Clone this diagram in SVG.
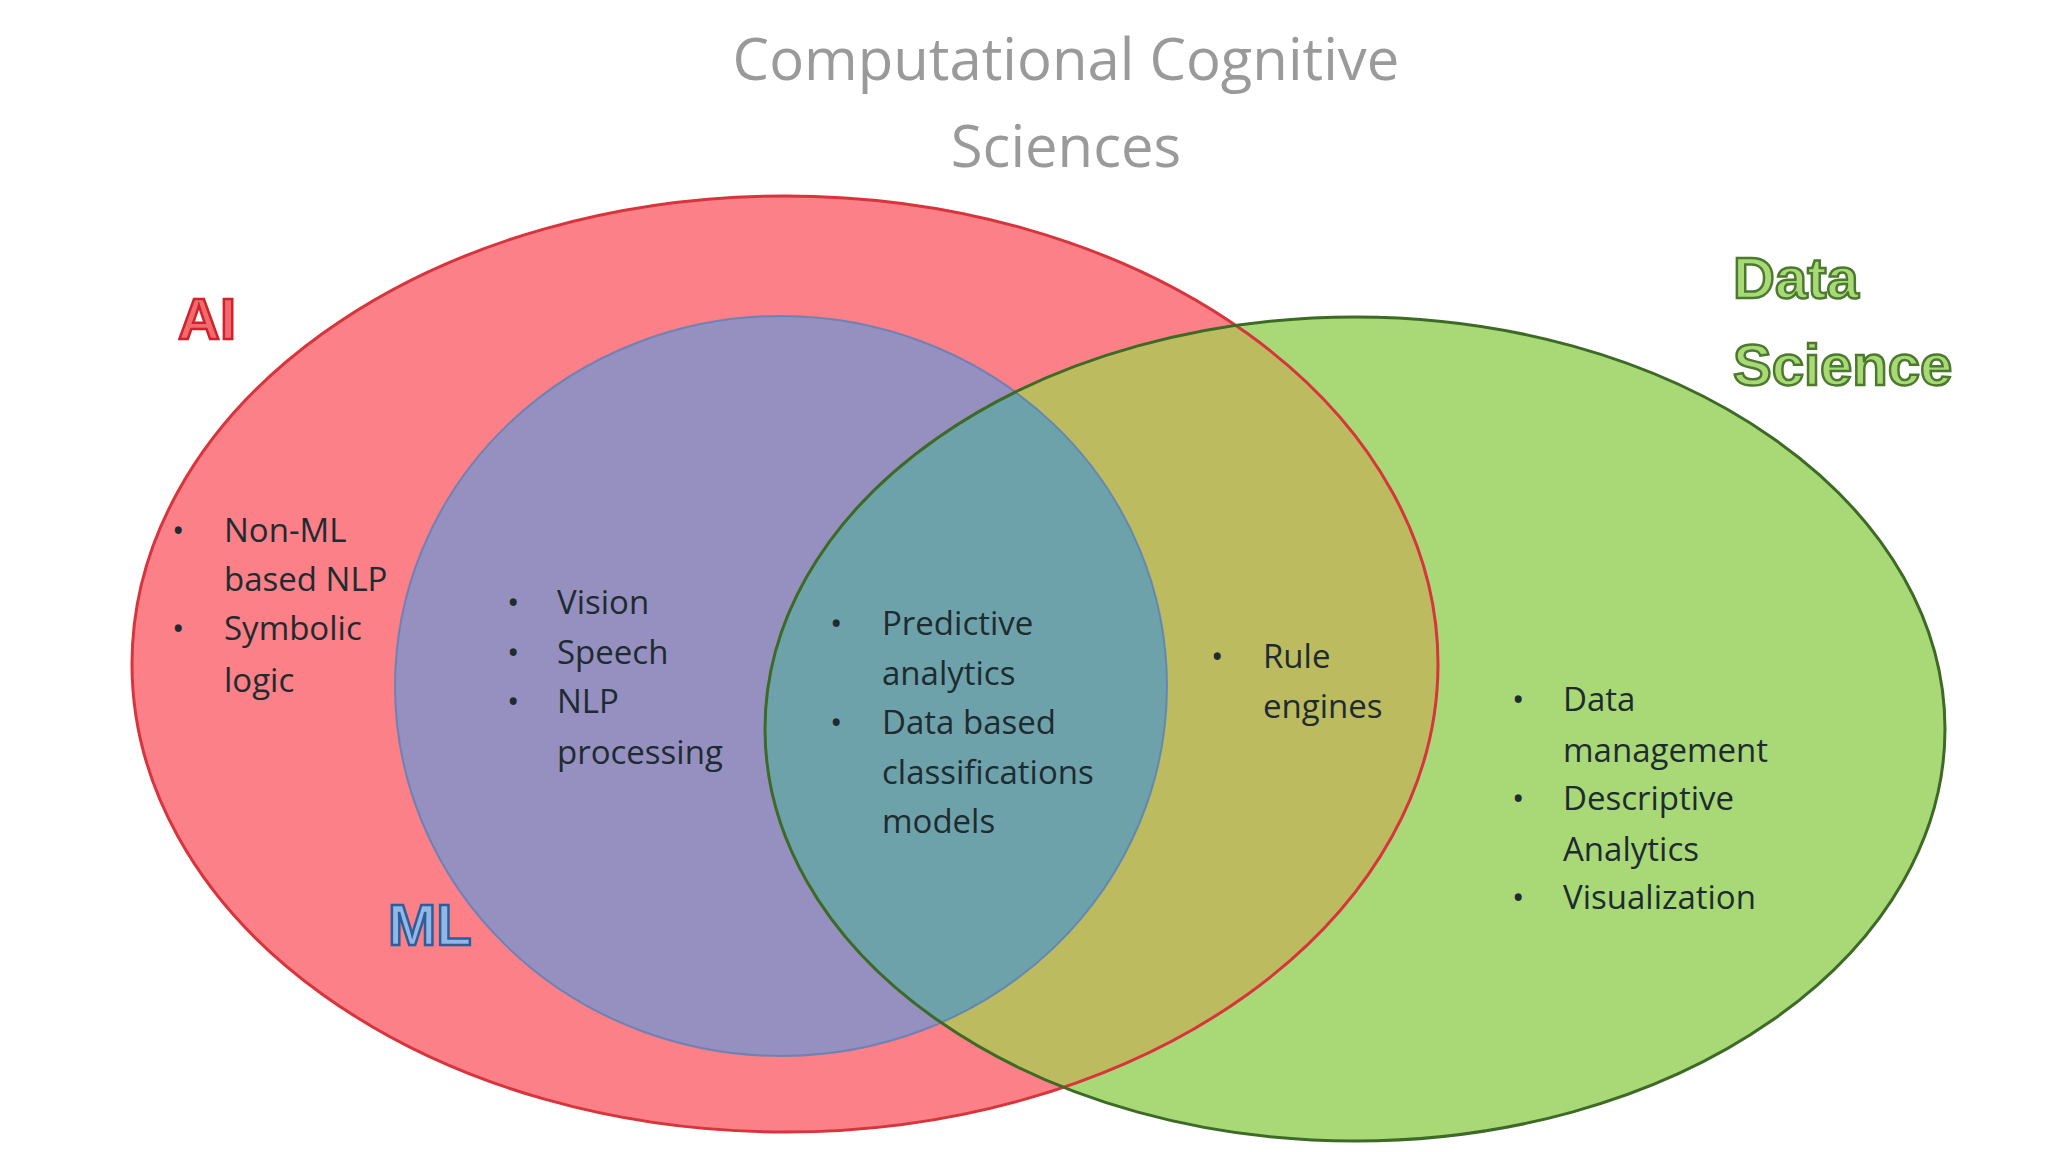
<svg xmlns="http://www.w3.org/2000/svg" width="2048" height="1152" viewBox="0 0 2048 1152">
<style>
.t{font-family:"Open Sans","Liberation Sans",sans-serif;font-size:33px;fill:#1e2b30}
.h{font-family:"Open Sans","Liberation Sans",sans-serif;font-size:58px;fill:#9a9a9a;text-anchor:middle}
.lab{font-family:"Liberation Sans",sans-serif;font-weight:bold;font-size:58px;stroke-width:2.5px;paint-order:normal}
</style>
<defs>
<clipPath id="cAI"><ellipse cx="785" cy="664" rx="653" ry="468"/></clipPath>
<clipPath id="cML"><ellipse cx="781" cy="686" rx="386" ry="370"/></clipPath>
</defs>
<rect width="2048" height="1152" fill="#ffffff"/>
<g id="title"><text class="h" x="1066" y="80">Computational Cognitive</text><text class="h" x="1066" y="167">Sciences</text></g>
<g id="ai"><ellipse cx="785" cy="664" rx="653" ry="468" fill="#fb8087"/></g>
<g id="ds"><ellipse cx="1355" cy="729" rx="590" ry="412" fill="#a9d977"/>
<ellipse cx="1355" cy="729" rx="590" ry="412" fill="#bdbb60" clip-path="url(#cAI)"/></g>
<g id="ml"><ellipse cx="781" cy="686" rx="386" ry="370" fill="#9690c0"/>
<ellipse cx="1355" cy="729" rx="590" ry="412" fill="#6ea2ab" clip-path="url(#cML)"/></g>
<g id="outlines" fill="none">
<ellipse cx="785" cy="664" rx="653" ry="468" stroke="#d8343c" stroke-width="3"/>
<ellipse cx="781" cy="686" rx="386" ry="370" stroke="#5a7fb8" stroke-width="2" opacity="0.8"/>
<ellipse cx="1355" cy="729" rx="590" ry="412" stroke="#3d6a25" stroke-width="3"/>
</g>
<g id="labels">
<text class="lab" x="178" y="339" fill="#f26a6e" stroke="#d0222a">AI</text>
<text class="lab" x="388" y="945" fill="#8fb8e8" stroke="#2f5d98">ML</text>
<text class="lab" x="1733" y="298" fill="#a9d977" stroke="#4b7a2e">Data</text>
<text class="lab" x="1733" y="385" fill="#a9d977" stroke="#4b7a2e">Science</text>
</g>
<g id="txt-ai" class="t">
<text class="t" x="172" y="542">•</text><text class="t" x="224" y="542">Non-ML</text>
<text class="t" x="224" y="591">based NLP</text>
<text class="t" x="172" y="640">•</text><text class="t" x="224" y="640">Symbolic</text>
<text class="t" x="224" y="692">logic</text>
</g>
<g id="txt-ml">
<text class="t" x="507" y="614">•</text><text class="t" x="557" y="614">Vision</text>
<text class="t" x="507" y="664">•</text><text class="t" x="557" y="664">Speech</text>
<text class="t" x="507" y="713">•</text><text class="t" x="557" y="713">NLP</text>
<text class="t" x="557" y="764">processing</text>
</g>
<g id="txt-mlds">
<text class="t" x="830" y="635">•</text><text class="t" x="882" y="635">Predictive</text>
<text class="t" x="882" y="685">analytics</text>
<text class="t" x="830" y="734">•</text><text class="t" x="882" y="734">Data based</text>
<text class="t" x="882" y="784">classifications</text>
<text class="t" x="882" y="833">models</text>
</g>
<g id="txt-aids">
<text class="t" x="1211" y="668">•</text><text class="t" x="1263" y="668">Rule</text>
<text class="t" x="1263" y="718">engines</text>
</g>
<g id="txt-ds">
<text class="t" x="1512" y="711">•</text><text class="t" x="1563" y="711">Data</text>
<text class="t" x="1563" y="762">management</text>
<text class="t" x="1512" y="810">•</text><text class="t" x="1563" y="810">Descriptive</text>
<text class="t" x="1563" y="861">Analytics</text>
<text class="t" x="1512" y="909">•</text><text class="t" x="1563" y="909">Visualization</text>
</g>
</svg>
